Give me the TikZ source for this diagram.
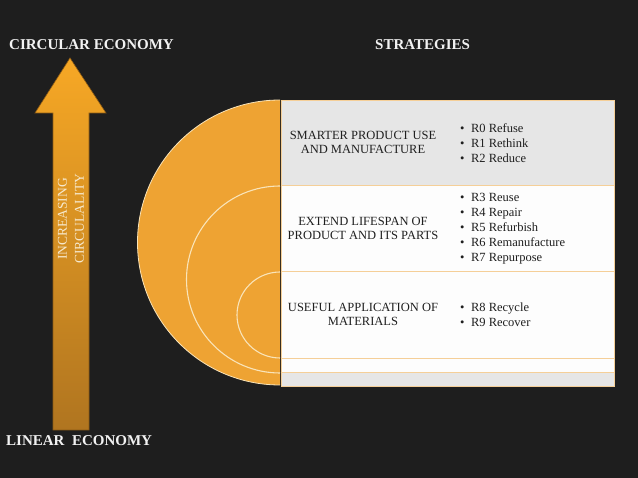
\documentclass[tikz,border=0pt]{standalone}
\usepackage{fontspec}
\setmainfont{Liberation Serif}
\begin{document}
\begin{tikzpicture}[x=1pt,y=-1pt,
  title/.style={text=white!95!black,font=\fontsize{15}{18}\selectfont\bfseries,inner sep=0pt},
  head/.style={text=black!88,font=\fontsize{12.5}{13.5}\selectfont,align=center,inner sep=0pt},
  rlist/.style={text=black!88,font=\fontsize{12.5}{15}\selectfont,align=left,inner sep=0pt,anchor=west},
  ring/.style={draw=ringc,line width=1.1pt},
  cellb/.style={draw=cellline,line width=0.9pt}]
\definecolor{bg}{HTML}{1E1E1E}
\definecolor{orng}{HTML}{EEA333}
\definecolor{ringc}{HTML}{F9E4B9}
\definecolor{cellline}{HTML}{F5CF98}
\definecolor{gray1}{HTML}{E6E6E6}
\definecolor{white1}{HTML}{FDFDFD}
\definecolor{arrtop}{HTML}{F7A825}
\definecolor{arrbot}{HTML}{B07520}
\definecolor{arredge}{HTML}{8C5A14}
\definecolor{cream}{HTML}{F6E8CC}

\fill[bg] (0,0) rectangle (638,478);
\useasboundingbox (0,0) rectangle (638,478);

% big arrow
\shade[top color=arrtop,bottom color=arrbot,draw=arredge,line width=0.6pt]
  (70,58) -- (106,113) -- (89,113) -- (89,430) -- (53,430) -- (53,113) -- (35,113) -- cycle;
\node[rotate=90,text=cream,align=center,inner sep=0pt,
  font=\fontsize{13.5}{17}\selectfont] (incr) at (71,219) {INCREASING\\CIRCULALITY};

% titles
\node[title,anchor=west] (ce) at (9,45) {CIRCULAR ECONOMY};
\node[title,anchor=west] (st) at (375,45) {STRATEGIES};
\node[title,anchor=west] (le) at (6,441) {LINEAR\ \ ECONOMY};

% half circle with rings
\fill[orng] (280,100) arc[start angle=-90,end angle=-270,radius=142.5] -- cycle;
\draw[ring,line width=0.8pt] (280,100) arc[start angle=-90,end angle=-270,radius=142.5];
\draw[ring] (280,186) arc[start angle=-90,end angle=-270,radius=93.5];
\draw[ring] (280,272) arc[start angle=-90,end angle=-270,radius=43];

% table rows
\fill[gray1] (281,100) rectangle (614,185);
\fill[white1] (281,185) rectangle (614,372);
\fill[gray1] (281,372) rectangle (614,386);
\draw[cellb] (281,100) rectangle (614,386);
\draw[cellb] (281,185) -- (614,185);
\draw[cellb] (281,271) -- (614,271);
\draw[cellb] (281,358) -- (614,358);
\draw[cellb] (281,372) -- (614,372);

% row 1
\node[head] (h1) at (363,142.5) {SMARTER PRODUCT USE\\AND MANUFACTURE};
\node[rlist] (l1) at (460,143) {\textbullet\hspace{6.5pt}R0 Refuse\\\textbullet\hspace{6.5pt}R1 Rethink\\\textbullet\hspace{6.5pt}R2 Reduce};
% row 2
\node[head] (h2) at (363,228.5) {EXTEND LIFESPAN OF\\PRODUCT AND ITS PARTS};
\node[rlist] (l2) at (460,228.5) {\textbullet\hspace{6.5pt}R3 Reuse\\\textbullet\hspace{6.5pt}R4 Repair\\\textbullet\hspace{6.5pt}R5 Refurbish\\\textbullet\hspace{6.5pt}R6 Remanufacture\\\textbullet\hspace{6.5pt}R7 Repurpose};
% row 3
\node[head] (h3) at (363,314.5) {USEFUL APPLICATION OF\\MATERIALS};
\node[rlist] (l3) at (460,314.5) {\textbullet\hspace{6.5pt}R8 Recycle\\\textbullet\hspace{6.5pt}R9 Recover};
\end{tikzpicture}
\end{document}
